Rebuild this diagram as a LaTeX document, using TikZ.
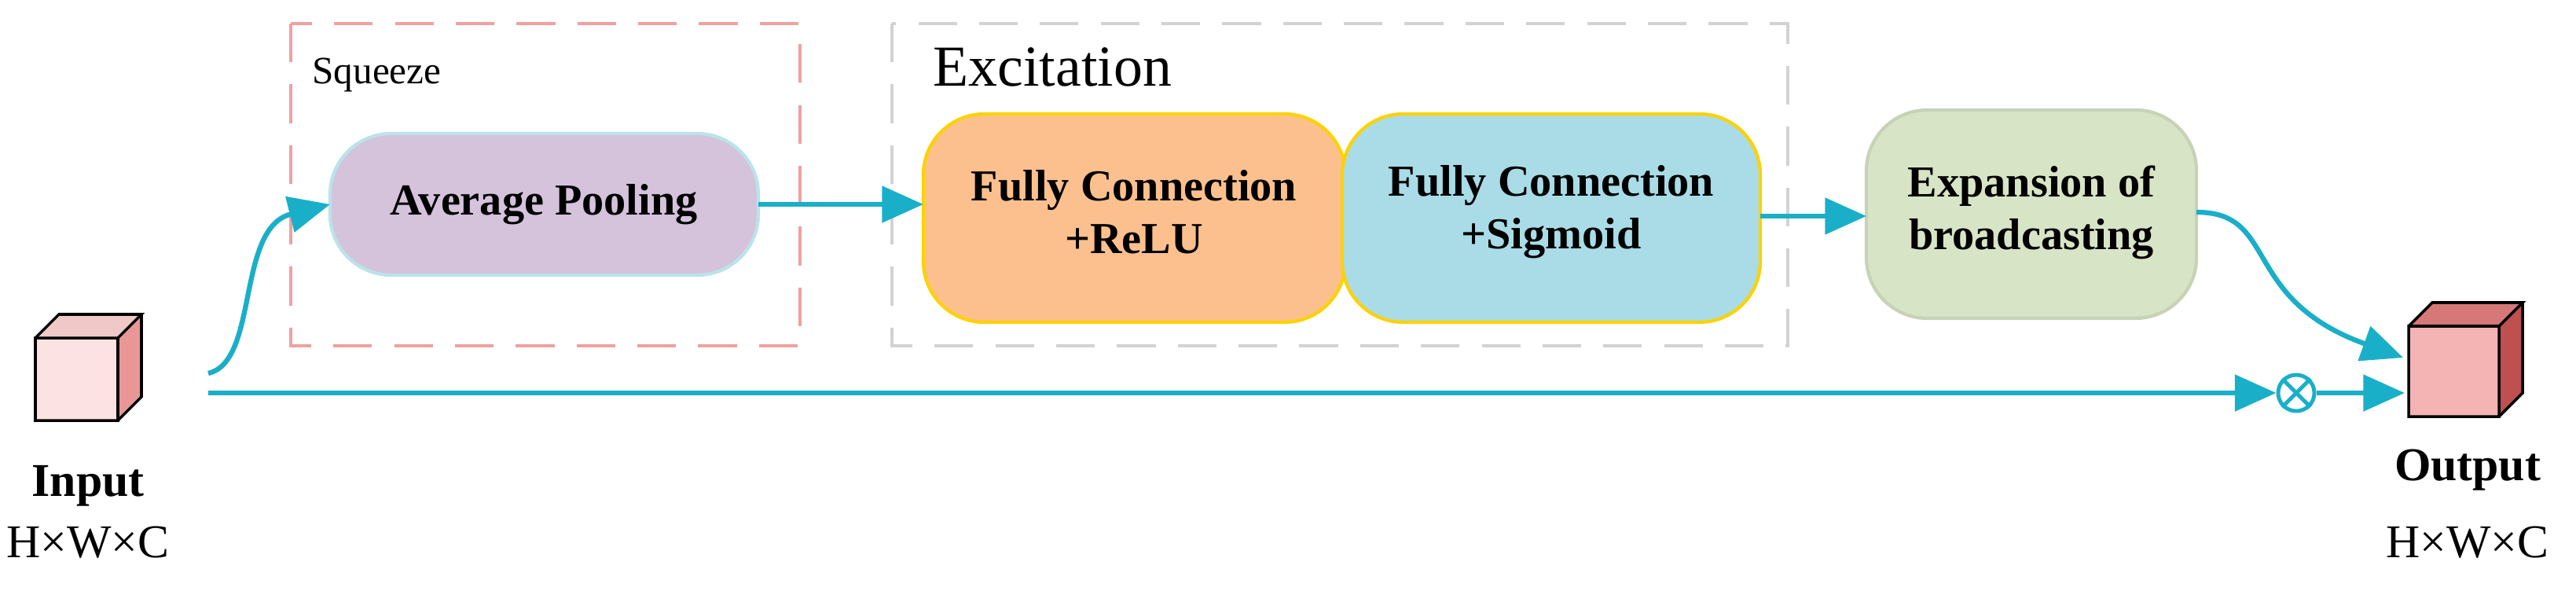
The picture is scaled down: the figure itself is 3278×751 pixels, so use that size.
\documentclass[tikz,border=0pt]{standalone}
\usepackage{fontspec}
\setmainfont{Liberation Serif}
\usetikzlibrary{arrows.meta,shapes.geometric}
\definecolor{arr}{HTML}{1AAFC8}
\definecolor{pur}{HTML}{D4C3DB}
\definecolor{ora}{HTML}{FCC08E}
\definecolor{cya}{HTML}{A9DCE6}
\definecolor{gre}{HTML}{D8E4C6}
\definecolor{sqd}{RGB}{240,160,160}
\definecolor{ic1}{RGB}{252,226,226}
\definecolor{ic2}{RGB}{240,200,200}
\definecolor{ic3}{RGB}{232,150,150}
\definecolor{oc1}{RGB}{244,180,180}
\definecolor{oc2}{RGB}{214,120,120}
\definecolor{oc3}{RGB}{190,80,80}
\tikzset{
 conn/.style={draw=arr,line width=1.8pt,-{Triangle[length=15pt,width=13pt]}},
 blk/.style={rounded corners=22pt,line width=1.2pt},
 lbl/.style={font=\fontsize{16}{19}\selectfont\bfseries,align=center},
 dbox/.style={dashed,dash pattern=on 14pt off 8pt,line width=1.4pt}
}
\begin{document}
\begin{tikzpicture}[x=0.01cm,y=-0.01cm]
\useasboundingbox (0,0) rectangle (3278,751);
\draw[dbox,draw=sqd] (370,30) rectangle (1018,440);
\node[anchor=west,font=\fontsize{14}{16}\selectfont] (sq) at (385,95) {Squeeze};
\draw[dbox,draw=gray!35] (1135,30) rectangle (2275,440);
\node[anchor=west,font=\fontsize{21}{24}\selectfont] (ex) at (1175,85) {Excitation};
\path[blk,fill=pur,draw=cya!80] (420,170) rectangle (965,350);
\node[lbl] (apt) at (692,260) {Average Pooling};
\coordinate (apL) at (420,260); \coordinate (apR) at (965,260);
\path[blk,fill=ora,draw=yellow!70!orange] (1175,145) rectangle (1712,410);
\node[lbl] (fc1) at (1443,270) {Fully Connection\\+ReLU};
\path[blk,fill=cya,draw=yellow!70!orange] (1708,145) rectangle (2240,410);
\node[lbl] (fc2) at (1974,270) {Fully Connection\\+Sigmoid};
\path[blk,fill=gre,draw=gre!92!black] (2375,140) rectangle (2795,405);
\node[lbl] (exp) at (2585,270) {Expansion of\\broadcasting};
\coordinate (fc1L) at (1175,260); \coordinate (fc2R) at (2240,275); \coordinate (expL) at (2375,275); \coordinate (expR) at (2795,270);
% input cube
\fill[ic1] (45,430) rectangle (150,535);
\fill[ic2] (45,430) -- (75,400) -- (180,400) -- (150,430) -- cycle;
\fill[ic3] (150,430) -- (180,400) -- (180,505) -- (150,535) -- cycle;
\draw[line width=1pt] (45,430) rectangle (150,535) (45,430) -- (75,400) -- (180,400) -- (150,430) (180,400) -- (180,505) -- (150,535);
% output cube
\fill[oc1] (3065,415) rectangle (3180,530);
\fill[oc2] (3065,415) -- (3095,385) -- (3210,385) -- (3180,415) -- cycle;
\fill[oc3] (3180,415) -- (3210,385) -- (3210,500) -- (3180,530) -- cycle;
\draw[line width=1pt] (3065,415) rectangle (3180,530) (3065,415) -- (3095,385) -- (3210,385) -- (3180,415) (3210,385) -- (3210,500) -- (3180,530);
\node[font=\fontsize{17}{20}\selectfont\bfseries] (in) at (112,618) {Input};
\node[font=\fontsize{17}{20}\selectfont] (ins) at (112,690) {H×W×C};
\node[font=\fontsize{17}{20}\selectfont\bfseries] (out) at (3140,598) {Output};
\node[font=\fontsize{17}{20}\selectfont] (outs) at (3140,690) {H×W×C};
% connectors
\coordinate (s) at (265,500); \coordinate (s2) at (265,475);
\node[circle,draw=arr,line width=1.4pt,inner sep=0pt,minimum size=0.46cm] (ot) at (2922,500) {};
\draw[arr,line width=1.4pt] (ot.north west) -- (ot.south east) (ot.north east) -- (ot.south west);
\coordinate (o1) at (3060,500); \coordinate (o2) at (3058,455);
\draw[conn] (s) -- (ot);
\draw[conn] (ot) -- (o1);
\draw[conn] (s2) .. controls (330,460) and (300,290) .. (apL);
\draw[conn] (apR) -- (fc1L);
\draw[conn] (fc2R) -- (expL);
\draw[conn] (expR) .. controls (2900,270) and (2850,380) .. (o2);
\end{tikzpicture}
\end{document}
